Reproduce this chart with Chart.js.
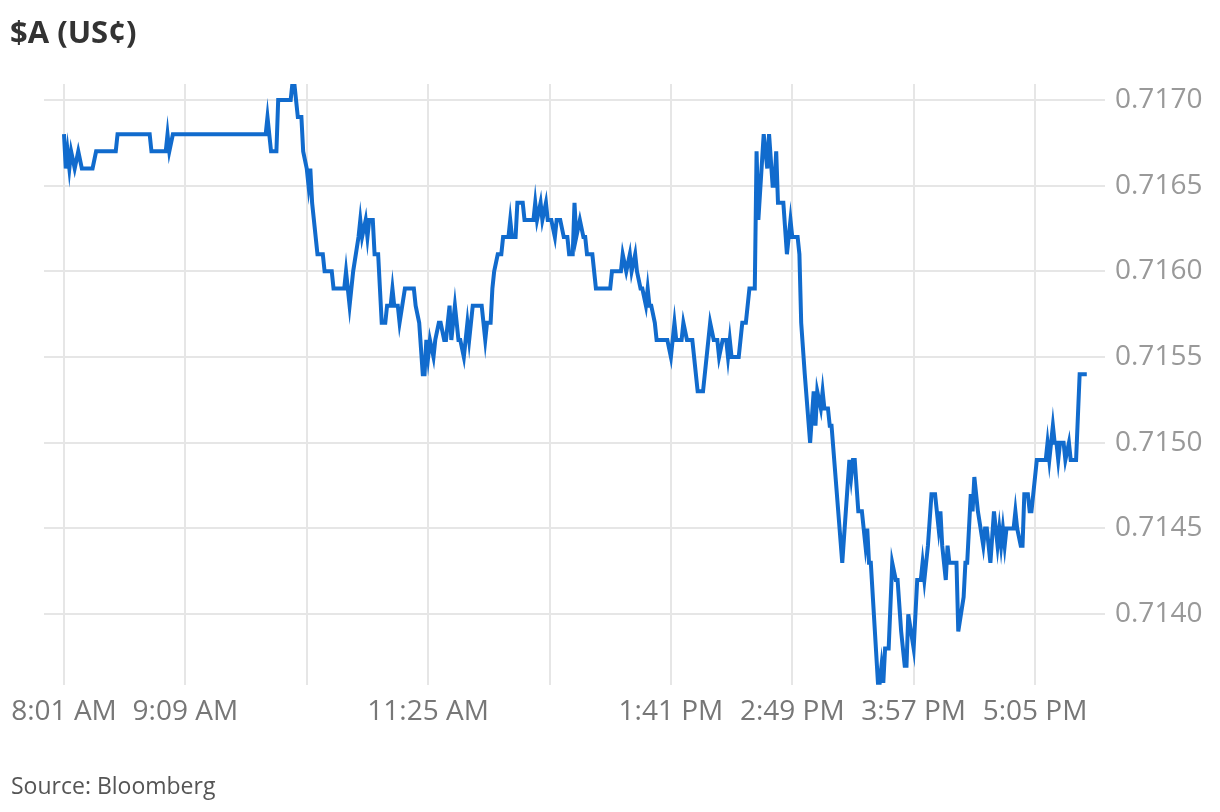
<!DOCTYPE html>
<html>
<head>
<meta charset="utf-8">
<script src="https://cdn.jsdelivr.net/npm/chart.js@4/dist/chart.umd.min.js"></script>
<style>
  html, body { margin: 0; padding: 0; background: #fff; }
  #wrap { position: relative; width: 1220px; height: 812px; }
  #title {
    position: absolute; left: 10px; top: 10px;
    font: bold 31px "Open Sans", sans-serif; color: #333;
  }
  #source {
    position: absolute; left: 11px; top: 769px;
    font: 23px "Open Sans", sans-serif; color: #555;
  }
  #box { position: absolute; left: 0; top: 0; width: 1220px; height: 812px; }
</style>
</head>
<body>
<div id="wrap">
  <div id="box"><canvas id="chart"></canvas></div>
  <div id="title">$A (US¢)</div>
  <div id="source">Source: Bloomberg</div>
</div>
<script>
// minutes after 8:01 AM
const minutes = [
    0, 1, 2, 3, 4, 6, 8, 10, 16, 18,
    29, 30, 48, 49, 57, 58, 59, 61, 113, 114,
    116, 119, 120, 127, 128, 129, 131, 133, 134, 136,
    137, 138, 139, 142, 145, 146, 150, 151, 157, 158,
    160, 162, 165, 166, 167, 169, 170, 171, 173, 174,
    176, 178, 180, 181, 183, 184, 185, 187, 188, 191,
    196, 197, 199, 201, 202, 203, 204, 205, 207, 208,
    210, 211, 213, 214, 215, 216, 217, 219, 221, 222,
    224, 225, 226, 227, 229, 234, 235, 236, 237, 239,
    240, 241, 243, 245, 246, 249, 250, 251, 253, 254,
    257, 258, 263, 264, 265, 267, 268, 270, 271, 273,
    275, 276, 278, 280, 282, 283, 285, 286, 287, 289,
    291, 292, 293, 296, 298, 306, 307, 312, 313, 315,
    317, 318, 320, 321, 323, 324, 326, 327, 328, 329,
    331, 332, 338, 340, 342, 343, 346, 347, 349, 352,
    353, 355, 358, 362, 364, 366, 367, 369, 371, 372,
    373, 374, 378, 380, 382, 384, 387, 388, 389, 392,
    394, 395, 397, 398, 399, 400, 403, 405, 407, 408,
    411, 412, 413, 415, 418, 420, 421, 422, 424, 425,
    426, 428, 429, 430, 436, 440, 441, 442, 443, 445,
    447, 448, 449, 450, 451, 452, 456, 457, 458, 459,
    460, 462, 464, 466, 467, 469, 471, 472, 473, 476,
    478, 480, 481, 482, 484, 486, 488, 490, 491, 492,
    494, 495, 496, 500, 501, 504, 505, 506, 508, 509,
    510, 512, 515, 516, 517, 519, 521, 523, 524, 525,
    526, 527, 528, 532, 533, 534, 536, 537, 538, 540,
    541, 542, 545, 550, 551, 552, 554, 555, 556, 557,
    558, 560, 561, 563, 564, 567, 569, 573
];

// AUD in US cents
const prices = [
    0.7168, 0.7166, 0.7167, 0.7166, 0.7167, 0.7166, 0.7167, 0.7166, 0.7166, 0.7167,
    0.7167, 0.7168, 0.7168, 0.7167, 0.7167, 0.7168, 0.7167, 0.7168, 0.7168, 0.7169,
    0.7167, 0.7167, 0.7170, 0.7170, 0.7171, 0.7171, 0.7169, 0.7169, 0.7167, 0.7166,
    0.7165, 0.7166, 0.7164, 0.7161, 0.7161, 0.7160, 0.7160, 0.7159, 0.7159, 0.7160,
    0.7158, 0.7160, 0.7162, 0.7163, 0.7162, 0.7163, 0.7162, 0.7163, 0.7163, 0.7161,
    0.7161, 0.7157, 0.7157, 0.7158, 0.7158, 0.7159, 0.7158, 0.7158, 0.7157, 0.7159,
    0.7159, 0.7158, 0.7157, 0.7154, 0.7154, 0.7156, 0.7155, 0.7156, 0.7155, 0.7156,
    0.7157, 0.7157, 0.7156, 0.7156, 0.7157, 0.7158, 0.7156, 0.7158, 0.7156, 0.7156,
    0.7155, 0.7156, 0.7157, 0.7156, 0.7158, 0.7158, 0.7157, 0.7156, 0.7157, 0.7157,
    0.7159, 0.7160, 0.7161, 0.7161, 0.7162, 0.7162, 0.7163, 0.7162, 0.7162, 0.7164,
    0.7164, 0.7163, 0.7163, 0.7164, 0.7163, 0.7164, 0.7163, 0.7164, 0.7163, 0.7163,
    0.7162, 0.7163, 0.7163, 0.7162, 0.7162, 0.7161, 0.7161, 0.7164, 0.7162, 0.7163,
    0.7162, 0.7162, 0.7161, 0.7161, 0.7159, 0.7159, 0.7160, 0.7160, 0.7161, 0.7160,
    0.7161, 0.7160, 0.7161, 0.7160, 0.7159, 0.7159, 0.7158, 0.7159, 0.7158, 0.7158,
    0.7157, 0.7156, 0.7156, 0.7155, 0.7157, 0.7156, 0.7156, 0.7157, 0.7156, 0.7156,
    0.7155, 0.7153, 0.7153, 0.7157, 0.7156, 0.7156, 0.7155, 0.7156, 0.7156, 0.7155,
    0.7156, 0.7155, 0.7155, 0.7157, 0.7157, 0.7159, 0.7159, 0.7167, 0.7163, 0.7168,
    0.7166, 0.7168, 0.7165, 0.7165, 0.7167, 0.7164, 0.7164, 0.7161, 0.7163, 0.7162,
    0.7162, 0.7161, 0.7157, 0.7154, 0.7150, 0.7153, 0.7151, 0.7153, 0.7152, 0.7153,
    0.7152, 0.7152, 0.7151, 0.7151, 0.7143, 0.7149, 0.7148, 0.7149, 0.7149, 0.7146,
    0.7146, 0.7145, 0.7144, 0.7145, 0.7143, 0.7143, 0.7136, 0.7136, 0.7137, 0.7136,
    0.7138, 0.7138, 0.7143, 0.7142, 0.7142, 0.7139, 0.7137, 0.7137, 0.7140, 0.7138,
    0.7142, 0.7142, 0.7143, 0.7142, 0.7144, 0.7147, 0.7147, 0.7145, 0.7146, 0.7144,
    0.7142, 0.7144, 0.7143, 0.7143, 0.7139, 0.7141, 0.7143, 0.7143, 0.7147, 0.7146,
    0.7148, 0.7146, 0.7144, 0.7145, 0.7145, 0.7143, 0.7146, 0.7144, 0.7145, 0.7144,
    0.7145, 0.7144, 0.7145, 0.7145, 0.7146, 0.7145, 0.7144, 0.7144, 0.7147, 0.7147,
    0.7146, 0.7146, 0.7149, 0.7149, 0.7150, 0.7149, 0.7151, 0.7150, 0.7150, 0.7149,
    0.7150, 0.7150, 0.7149, 0.7150, 0.7149, 0.7149, 0.7154, 0.7154
];

// x ticks every 68 minutes, two of them carry no label
const xTicks = [0, 68, 136, 204, 272, 340, 408, 476, 544];
const xTickLabels = ['8:01 AM', '9:09 AM', '', '11:25 AM', '', '1:41 PM', '2:49 PM', '3:57 PM', '5:05 PM'];
const yTicks = [0.7140, 0.7145, 0.7150, 0.7155, 0.7160, 0.7165, 0.7170];

const points = minutes.map((m, i) => ({ x: m, y: prices[i] }));

const gridColor = '#e6e6e6';
const tickFont = { family: '"Open Sans", sans-serif', size: 28 };

new Chart(document.getElementById('chart'), {
    type: 'line',
    data: {
        datasets: [{
            data: points,
            borderColor: '#116bcd',
            borderWidth: 4,
            pointRadius: 0,
            tension: 0,
            fill: false
        }]
    },
    options: {
        responsive: true,
        maintainAspectRatio: false,
        animation: false,
        layout: { padding: { left: 44, top: 84, right: 0, bottom: 0 } },
        plugins: {
            legend: { display: false },
            tooltip: { enabled: false }
        },
        scales: {
            x: {
                type: 'linear',
                min: -11.2,
                max: 583.2,
                afterBuildTicks: axis => { axis.ticks = xTicks.map(v => ({ value: v })); },
                afterFit: axis => { axis.height = 127; },
                border: { display: false },
                grid: { color: gridColor, lineWidth: 2, drawTicks: false },
                ticks: {
                    autoSkip: false,
                    maxRotation: 0,
                    padding: 10,
                    color: '#777',
                    font: tickFont,
                    callback: value => {
                        const i = xTicks.indexOf(value);
                        return i >= 0 ? xTickLabels[i] : '';
                    }
                }
            },
            y: {
                position: 'right',
                min: 0.713587,
                max: 0.717093,
                afterBuildTicks: axis => { axis.ticks = yTicks.map(v => ({ value: v })); },
                afterFit: axis => { axis.width = 115; },
                border: { display: false },
                grid: { color: gridColor, lineWidth: 2, drawTicks: false },
                ticks: {
                    padding: 10,
                    color: '#999',
                    font: tickFont,
                    callback: value => value.toFixed(4)
                }
            }
        }
    }
});
</script>
</body>
</html>
